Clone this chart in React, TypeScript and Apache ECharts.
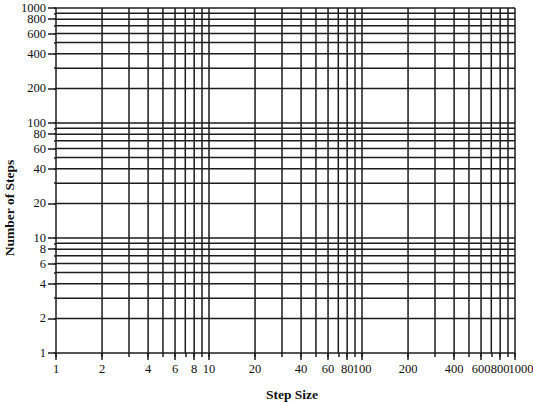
import React, { useEffect, useRef } from "react";
import * as echarts from "echarts";

const xGridValues = [1, 2, 3, 4, 5, 6, 7, 8, 9, 10, 20, 30, 40, 50, 60, 70, 80, 90, 100, 200, 300, 400, 500, 600, 700, 800, 900, 1000];
const yGridValues = [1, 2, 3, 4, 5, 6, 7, 8, 9, 10, 20, 30, 40, 50, 60, 70, 80, 90, 100, 200, 300, 400, 500, 600, 700, 800, 900, 1000];
const xTickLabels = [1, 2, 4, 6, 8, 10, 20, 40, 60, 80, 100, 200, 400, 600, 800, 1000];
const yTickLabels = [1, 2, 4, 6, 8, 10, 20, 40, 60, 80, 100, 200, 400, 600, 800, 1000];
const xTitle = "Step Size";
const yTitle = "Number of Steps";
const axisMin = 1;
const axisMax = 1000;

const FONT = "'Liberation Serif', serif";
const LINE = "#1c1c1c";

const fmt = (v: number) => String(Math.round(v));
// the end label sits on its own axis so ECharts does not drop it (or its neighbour) for overlap
const inner = (vals: number[]) => vals.filter((v) => v < axisMax);
const ends = (vals: number[]) => vals.filter((v) => v >= axisMax);

export default function App() {
  const ref = useRef<HTMLDivElement>(null);
  useEffect(() => {
    if (!ref.current) return;
    const chart = echarts.init(ref.current, undefined, { renderer: "svg" });
    const lineStyle = { color: LINE, width: 1.5 };
    const series: any[] = [];
    xGridValues.forEach((v) => {
      series.push({
        type: "line",
        data: [[v, axisMin], [v, axisMax]],
        symbol: "none",
        clip: false,
        lineStyle,
        silent: true,
      });
    });
    yGridValues.forEach((v) => {
      series.push({
        type: "line",
        data: [[axisMin, v], [axisMax, v]],
        symbol: "none",
        clip: false,
        lineStyle,
        silent: true,
      });
    });
    const labelStyle = {
      color: "#111",
      fontFamily: FONT,
      fontSize: 12.5,
      lineHeight: 9,
      formatter: fmt,
      hideOverlap: false,
      showMinLabel: true,
      showMaxLabel: true,
    };
    chart.setOption({
      animation: false,
      grid: { left: 56, right: 18, top: 8, bottom: 49, containLabel: false, outerBoundsMode: "none" },
      xAxis: [
        {
          type: "log",
          logBase: 10,
          min: axisMin,
          max: axisMax,
          axisLine: { show: false },
          splitLine: { show: false },
          axisTick: { show: true, length: 4, customValues: xGridValues, lineStyle },
          axisLabel: { customValues: inner(xTickLabels), margin: 11, ...labelStyle },
        },
        {
          type: "log",
          logBase: 10,
          min: axisMin,
          max: axisMax,
          position: "bottom",
          axisLine: { show: false },
          splitLine: { show: false },
          axisTick: { show: true, length: 7, customValues: xTickLabels, lineStyle },
          axisLabel: {
            customValues: ends(xTickLabels),
            margin: 11,
            ...labelStyle,
            padding: [0, 0, 0, 12],
          },
        },
      ],
      yAxis: [
        {
          type: "log",
          logBase: 10,
          min: axisMin,
          max: axisMax,
          axisLine: { show: false },
          splitLine: { show: false },
          axisTick: { show: true, length: 2, customValues: yGridValues, lineStyle },
          axisLabel: { customValues: inner(yTickLabels), margin: 10, ...labelStyle },
        },
        {
          type: "log",
          logBase: 10,
          min: axisMin,
          max: axisMax,
          position: "left",
          axisLine: { show: false },
          splitLine: { show: false },
          axisTick: { show: true, length: 8, customValues: yTickLabels, lineStyle },
          axisLabel: { customValues: ends(yTickLabels), margin: 10, ...labelStyle },
        },
      ],
      graphic: [
        {
          type: "text",
          x: 292,
          y: 394,
          style: {
            text: xTitle,
            fontFamily: FONT,
            fontWeight: "bold",
            fontSize: 13.5,
            fill: "#111",
            align: "center",
            verticalAlign: "middle",
          },
        },
        {
          type: "text",
          x: 9,
          y: 208,
          rotation: Math.PI / 2,
          style: {
            text: yTitle,
            fontFamily: FONT,
            fontWeight: "bold",
            fontSize: 13.5,
            fill: "#111",
            align: "center",
            verticalAlign: "middle",
          },
        },
      ],
      series,
    });
    return () => chart.dispose();
  }, []);
  return <div ref={ref} style={{ width: 533, height: 402, position: "absolute", left: 0, top: 0 }} />;
}
